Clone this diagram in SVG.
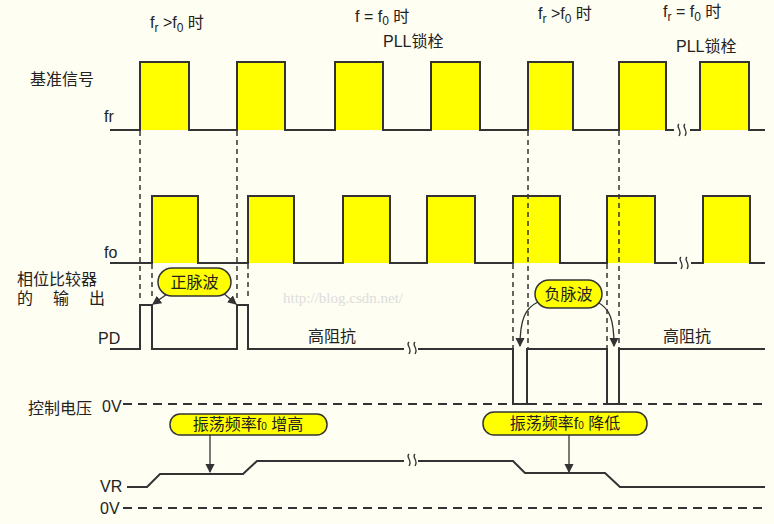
<svg xmlns="http://www.w3.org/2000/svg" width="774" height="524" viewBox="0 0 774 524">
<style>
.w{fill:none;stroke:#333;stroke-width:2}
.p{fill:#ffff00}
.d{fill:none;stroke:#333;stroke-width:1.5;stroke-dasharray:5,4}
.dl{fill:none;stroke:#333;stroke-width:2;stroke-dasharray:9,6}
.t{font-family:"Liberation Sans","Noto Sans CJK SC",sans-serif;font-size:16px;fill:#222}
.b{fill:#ffff00;stroke:#333;stroke-width:1.5}
.a{fill:none;stroke:#333;stroke-width:1.3}
.br{fill:none;stroke:#333;stroke-width:1.3}
</style>
<defs><marker id="ar" viewBox="0 0 8 8" refX="7" refY="4" markerWidth="7" markerHeight="7" orient="auto"><path d="M0,0L8,4L0,8z" fill="#333"/></marker></defs>
<rect width="774" height="524" fill="#fefef3"/>
<g id="fr-signal">
<g class="p"><rect x="140" y="62" width="49" height="68"/><rect x="237" y="62" width="48" height="68"/><rect x="335" y="62" width="48" height="68"/><rect x="431" y="62" width="49" height="68"/><rect x="528" y="62" width="45" height="68"/><rect x="619" y="62" width="47" height="68"/><rect x="700" y="62" width="49" height="68"/></g>
<path class="w" d="M110,130H140V62H189V130H237V62H285V130H335V62H383V130H431V62H480V130H528V62H573V130H619V62H666V130H674M690,130H700V62H749V130H765"/>
<path class="br" d="M679,124c-4,3 4,6 0,12M685,124c-4,3 4,6 0,12"/>
</g>
<g id="fo-signal">
<g class="p"><rect x="152" y="196" width="46" height="67"/><rect x="248" y="196" width="46" height="67"/><rect x="343" y="196" width="47" height="67"/><rect x="427" y="196" width="48" height="67"/><rect x="513" y="196" width="47" height="67"/><rect x="607" y="196" width="48" height="67"/><rect x="703" y="196" width="47" height="67"/></g>
<path class="w" d="M110,263H152V196H198V263H248V196H294V263H343V196H390V263H427V196H475V263H513V196H560V263H607V196H655V263H677M691,263H703V196H750V263H765"/>
<path class="br" d="M681,257c-4,3 4,6 0,12M687,257c-4,3 4,6 0,12"/>
</g>
<g id="connectors">
<path class="d" d="M140,131V300M237,131V300M152,264V300M248,264V300M528,131V348M619,131V348M513,264V348M607,264V348"/>
<path class="a" d="M170,292L153,304" marker-end="url(#ar)"/>
<path class="a" d="M222,292L236,304" marker-end="url(#ar)"/>
<path class="a" d="M538,302C525,308 520,320 520,346" marker-end="url(#ar)"/>
<path class="a" d="M597,302C610,308 614,320 614,346" marker-end="url(#ar)"/>
<path class="a" d="M210,435V472" marker-end="url(#ar)"/>
<path class="a" d="M569,435V472" marker-end="url(#ar)"/>
</g>
<g id="pd-signal">
<path class="w" d="M110,349H140V305H152V349H237V305H248V349H404M418,349H513V404H527V349H607V404H619V349H765"/>
<path class="br" d="M409,342c-4,3 4,6 0,12M415,342c-4,3 4,6 0,12"/>
</g>
<g id="control-voltage">
<path class="dl" d="M123,404H765M123,508H765"/>
<path class="w" d="M127,487H147L160,474H243L257,461H404M418,461H513L525,473H605L620,487H765"/>
<path class="br" d="M409,454c-4,3 4,6 0,12M415,454c-4,3 4,6 0,12"/>
</g>
<g id="bubble-pos"><rect class="b" x="158" y="268" width="73" height="28" rx="14"/><text class="t" x="194.5" y="288" text-anchor="middle">正脉波</text></g>
<g id="bubble-neg"><rect class="b" x="535" y="280" width="67" height="28" rx="14"/><text class="t" x="568.5" y="300" text-anchor="middle">负脉波</text></g>
<g id="bubble-up"><rect class="b" x="170" y="414" width="157" height="21" rx="10"/><text class="t" x="248" y="430" text-anchor="middle">振荡频率f<tspan font-size="10">0</tspan> 增高</text></g>
<g id="bubble-down"><rect class="b" x="483" y="412" width="164" height="23" rx="11"/><text class="t" x="565" y="429" text-anchor="middle">振荡频率f<tspan font-size="10">0</tspan> 降低</text></g>
<g id="labels">
<text class="t" x="150" y="28">f<tspan font-size="12" dy="4">r</tspan><tspan dy="-4"> &gt;f</tspan><tspan font-size="12" dy="4">0</tspan><tspan dy="-4"> 时</tspan></text>
<text class="t" x="355" y="22">f = f<tspan font-size="12" dy="3">0</tspan><tspan dy="-3"> 时</tspan></text>
<text class="t" x="383" y="47">PLL锁栓</text>
<text class="t" x="538" y="19">f<tspan font-size="12" dy="4">r</tspan><tspan dy="-4"> &gt;f</tspan><tspan font-size="12" dy="4">0</tspan><tspan dy="-4"> 时</tspan></text>
<text class="t" x="663" y="17">f<tspan font-size="12" dy="4">r</tspan><tspan dy="-4"> = f</tspan><tspan font-size="12" dy="4">0</tspan><tspan dy="-4">  时</tspan></text>
<text class="t" x="676" y="52">PLL锁栓</text>
<text class="t" x="30" y="85">基准信号</text>
<text class="t" x="104" y="122">fr</text>
<text class="t" x="104" y="258">fo</text>
<text class="t" x="17" y="285">相位比较器</text>
<text class="t" x="17" y="304" textLength="88">的 输 出</text>
<text class="t" x="98" y="344">PD</text>
<text class="t" x="308" y="342">高阻抗</text>
<text class="t" x="663" y="342">高阻抗</text>
<text class="t" x="28" y="414">控制电压</text>
<text class="t" x="102" y="412">0V</text>
<text class="t" x="100" y="492">VR</text>
<text class="t" x="100" y="514">0V</text>
<text x="283" y="303" font-family="Liberation Serif,serif" font-size="15" fill="#ddd">http://blog.csdn.net/</text>
</g>
</svg>
